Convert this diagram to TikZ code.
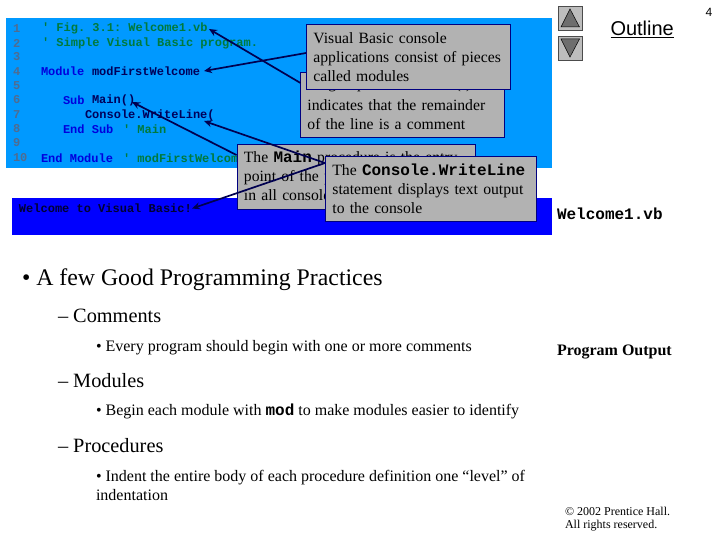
\documentclass[tikz,border=0pt]{standalone}
\usepackage{fontspec}
\usetikzlibrary{arrows.meta}
\setmainfont{Liberation Serif}
\setsansfont{Liberation Sans}
\setmonofont{Liberation Mono}
\definecolor{skyb}{HTML}{0099FF}
\definecolor{deepb}{HTML}{0000FF}
\definecolor{boxg}{HTML}{B2B2B2}
\definecolor{navy}{HTML}{000080}
\definecolor{codeg}{HTML}{007A3C}
\definecolor{codek}{HTML}{0000DD}
\definecolor{coden}{HTML}{506C90}
\definecolor{coded}{HTML}{00005A}
\definecolor{btn}{HTML}{BDBDBD}
\definecolor{btnd}{HTML}{6E6E6E}
\definecolor{arrowc}{HTML}{000050}
\tikzset{
  txt/.style={anchor=west,inner sep=0pt,outer sep=0pt},
  code/.style={txt,font=\fontsize{12}{14}\selectfont\ttfamily\bfseries},
  num/.style={code,text=coden},
  cmt/.style={code,text=codeg},
  kw/.style={code,text=codek},
  idn/.style={code,text=coded},
  callout/.style={anchor=north west,draw=navy,line width=0.8pt,fill=boxg,inner xsep=7pt,inner ysep=0pt,
    align=left,font=\fontsize{15.7}{19}\selectfont},
  link/.style={draw=arrowc,line width=1.7pt,-{Stealth[length=8pt,width=7pt]}},
  btnbox/.style={draw=black!70,line width=0.6pt,fill=btn,minimum size=24pt,inner sep=0pt,anchor=north west},
  tri/.style={draw=black,line width=0.5pt,fill=btnd},
  headline/.style={txt,font=\fontsize{23.8}{28}\selectfont},
  subline/.style={txt,font=\fontsize{20.3}{24}\selectfont},
  detail/.style={txt,font=\fontsize{16}{19}\selectfont},
}
\newcommand{\bm}[1]{{\fontsize{16}{19}\selectfont\ttfamily\bfseries #1}}
\begin{document}
\begin{tikzpicture}[x=1pt,y=-1pt]
\useasboundingbox (0,0) rectangle (720,540);
\fill[skyb] (6,18) rectangle (552,168);
\fill[deepb] (12,198) rectangle (552,235);
% line numbers
\node[num] (n1) at (13,28.5) {1};
\node[num] (n2) at (13,43) {2};
\node[num] (n3) at (13,57) {3};
\node[num] (n4) at (13,71.5) {4};
\node[num] (n5) at (13,86) {5};
\node[num] (n6) at (13,100) {6};
\node[num] (n7) at (13,115) {7};
\node[num] (n8) at (13,129) {8};
\node[num] (n9) at (13,143) {9};
\node[num] (n10) at (13,158) {10};
% code
\node[cmt] (c1) at (42,28.5) {' Fig. 3.1: Welcome1.vb};
\node[cmt] (c2) at (42,43) {' Simple Visual Basic program.};
\node[kw] (k4) at (41,71.5) {Module};
\node[idn] (m4) at (92,71.5) {modFirstWelcome};
\node[kw] (k6) at (63,100) {Sub};
\node[idn] (m6) at (92,100) {Main()};
\node[idn] (w7) at (85,115) {Console.WriteLine(};
\node[kw] (k8) at (63,129) {End Sub};
\node[cmt] (c8) at (123,129) {' Main};
\node[kw] (k10) at (41,158) {End Module};
\node[cmt] (c10) at (123,158) {' modFirstWelcome};
\node[code,text=black!80!blue] (out) at (19,208) {Welcome to Visual Basic!};
% tips
\coordinate (t1) at (209,29);
\coordinate (t2) at (204,71);
\coordinate (t3) at (132,102);
\coordinate (t4) at (204,121);
\coordinate (t5) at (192,208.5);
% callouts
\node[callout,minimum width=204pt,minimum height=65pt,text width=190pt] (bcmt) at (300,72)
  {\rule{0pt}{11pt}\raisebox{3pt}[0pt][0pt]{Single-quote character (')}\\indicates that the remainder\\of the line is a comment};
\coordinate (bcmtp) at (300.5,83);
\draw[link] (bcmtp) -- (t1);
\coordinate (bvbp) at (306,53);
\draw[link] (bvbp) -- (t2);
\node[callout,minimum width=204pt,minimum height=65pt,text width=190pt] (bvb) at (306,24)
  {\rule{0pt}{12pt}Visual Basic console\\applications consist of pieces\\called modules};
\node[callout,minimum width=238pt,minimum height=65pt,text width=224pt] (bmain) at (236.5,144)
  {\rule{0pt}{11pt}The \bm{Main} procedure is the entry\\point of the program. It is present\\in all console applications};
\coordinate (bmainp) at (236.5,155);
\draw[link] (bmainp) -- (t3);
\coordinate (bconp) at (325,163);
\draw[link] (bconp) -- (t4);
\draw[link] (bconp) -- (t5);
\node[callout,minimum width=211pt,minimum height=65pt,text width=197pt] (bcon) at (325,156)
  {\rule{0pt}{11pt}The \bm{Console.WriteLine}\\statement displays text output\\to the console};
% nav buttons
\node[btnbox] (up) at (558,6) {};
\node[btnbox] (down) at (558,36) {};
\draw[tri] (570,9) -- (579.5,27) -- (561,27) -- cycle;
\draw[tri] (561,39) -- (579.5,39) -- (570,57) -- cycle;
% right column
\node[txt,font=\fontsize{20}{22}\selectfont\sffamily] (outl) at (610.5,28) {Outline};
\draw[line width=1pt] (610.5,37.5) -- (674,37.5);
\node[txt,font=\fontsize{12}{14}\selectfont\sffamily] (pg) at (705.5,12) {4};
\node[txt,font=\fontsize{16}{19}\selectfont\ttfamily\bfseries] (fn) at (557,214) {Welcome1.vb};
\node[txt,font=\fontsize{16}{19}\selectfont\bfseries] (po) at (557,352) {Program Output};
\node[txt,font=\fontsize{12}{15}\selectfont] (cp1) at (565,511) {© 2002 Prentice Hall.};
\node[txt,font=\fontsize{12}{15}\selectfont] (cp2) at (565,526) {All rights reserved.};
% bullets
\node[headline] (b1) at (22,280) {• A few Good Programming Practices};
\node[subline] (b2) at (58,316) {– Comments};
\node[detail] (b3) at (96,348) {• Every program should begin with one or more comments};
\node[subline] (b4) at (58,381) {– Modules};
\node[detail] (b5) at (96,411) {• Begin each module with {\ttfamily\bfseries mod} to make modules easier to identify};
\node[subline] (b6) at (58,446) {– Procedures};
\node[detail,align=left,anchor=north west] (b7) at (96,470) {• Indent the entire body of each procedure definition one “level” of\\indentation};
\end{tikzpicture}
\end{document}
